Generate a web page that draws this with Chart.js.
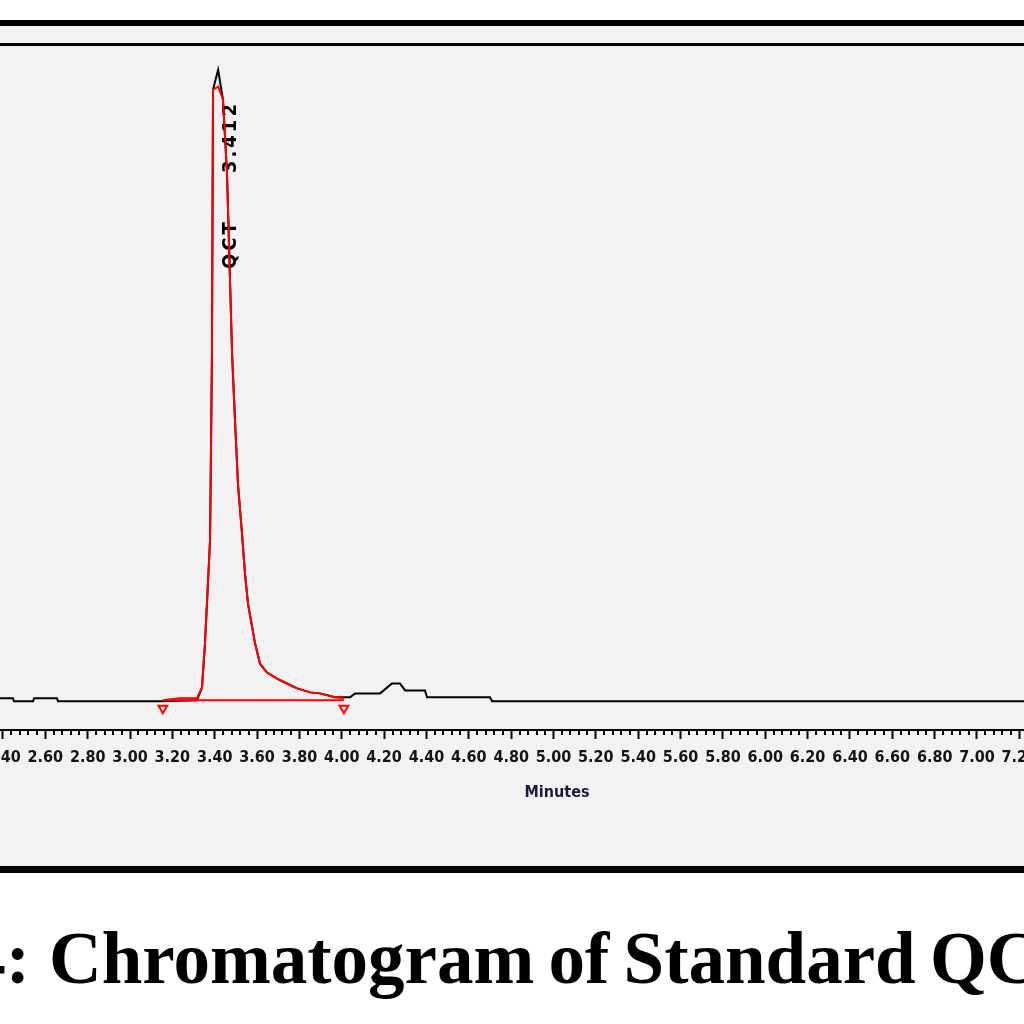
<!DOCTYPE html>
<html>
<head>
<meta charset="utf-8">
<script src="https://cdn.jsdelivr.net/npm/chart.js@4.4.1/dist/chart.umd.min.js"></script>
<style>
html,body{margin:0;padding:0;background:#fff;width:1024px;height:1024px;overflow:hidden;position:relative;}
#panel{position:absolute;left:0;top:20px;width:1024px;height:853px;box-sizing:border-box;background:#f2f2f2;border-top:6px solid #000;border-bottom:7px solid #000;}
#plotTop{position:absolute;left:0;top:43px;width:1024px;height:3px;background:#000;}
#wrap{position:absolute;left:-40px;top:46px;width:1194px;height:764px;}
.cap{position:absolute;top:922px;font:bold 73px/1 "Liberation Serif","Times New Roman",serif;color:#000;white-space:nowrap;}
</style>
</head>
<body>
<div id="panel"></div>
<div id="plotTop"></div>
<div id="wrap"><canvas id="chrom" width="1194" height="764"></canvas></div>
<div class="cap" style="right:994px;">Figure 4:</div>
<div class="cap" style="left:49px;word-spacing:-4px;">Chromatogram of Standard QCT</div>

<script>
// ---- data (minutes / mV) ----
const xRange = [2.386, 7.647];
const majorStep = 0.2;
const minorStep = 0.04;
const yRange = [-15, 327];

// detector trace (black)
const timeMin = [2.386, 2.447, 2.452, 2.542, 2.547, 2.655, 2.660, 3.142, 3.316, 3.340, 3.354, 3.378, 3.387, 3.392, 3.416,
  3.439, 3.458, 3.482, 3.496, 3.510, 3.529, 3.543, 3.557, 3.576, 3.590, 3.614, 3.647, 3.694, 3.741, 3.789, 3.850, 3.897,
  3.968, 4.039, 4.063, 4.181, 4.237, 4.275, 4.299, 4.393, 4.403, 4.700, 4.710, 7.647];
const signalMv = [1, 1, -0.5, -0.5, 1, 1, -0.5, -0.5, 0, 6.5, 28.5, 81, 175, 308.5, 318.5,
  303.5, 266.5, 175, 141, 109, 84, 64, 49, 37.5, 29, 18.5, 14, 11, 8.5, 6, 4, 3.5,
  1.5, 1.5, 3.5, 3.5, 8.5, 8.5, 5, 5, 1.5, 1.5, -0.5, -0.5];

// integrated peak (red)
const peakTime = [3.155, 3.236, 3.316, 3.340, 3.354, 3.378, 3.387, 3.392, 3.416, 3.439, 3.458, 3.482, 3.496, 3.510,
  3.529, 3.543, 3.557, 3.576, 3.590, 3.614, 3.647, 3.694, 3.741, 3.789, 3.850, 3.897, 3.968, 4.010];
const peakMv = [0, 1, 1, 6.5, 28.5, 81, 175, 308.5, 310, 303.5, 266.5, 175, 141, 109,
  84, 64, 49, 37.5, 29, 18.5, 14, 11, 8.5, 6, 4, 3.5, 1.5, 1];

// baseline drop + start/end marks
const baseTime = [3.155, 4.010];
const baseMv = [0, 0];
const markMv = [-4, -4];

const peakRt = 3.416;
const peakLabels = ["3.412", "QCT"];

const pts = (xs, ys) => xs.map((x, i) => ({x, y: ys[i]}));
const FONT = "'DejaVu Sans Condensed', 'DejaVu Sans', sans-serif";

// small ticks between the labelled ones
const minorTicks = {
  id: "minorTicks",
  afterDraw(chart){
    const sx = chart.scales.x, ctx = chart.ctx;
    ctx.save(); ctx.strokeStyle = "#000"; ctx.lineWidth = 2;
    for(let i = Math.ceil(sx.min / minorStep); i * minorStep <= sx.max; i++){
      if(i % 5 === 0) continue;
      const px = Math.round(sx.getPixelForValue(i * minorStep));
      ctx.beginPath(); ctx.moveTo(px, sx.top); ctx.lineTo(px, sx.top + 5); ctx.stroke();
    }
    ctx.restore();
  }
};

// rotated peak annotation (drawn under the traces)
const peakText = {
  id: "peakText",
  beforeDatasetsDraw(chart){
    const {x} = chart.scales, ctx = chart.ctx, top = chart.chartArea.top;
    const px = x.getPixelForValue(peakRt) + 18;
    const starts = [top + 120, top + 216];
    ctx.save();
    ctx.fillStyle = "#000";
    ctx.font = "bold 20px " + FONT;
    ctx.letterSpacing = "3px";
    peakLabels.forEach((t, i) => {
      ctx.save();
      ctx.translate(px, starts[i]);
      ctx.rotate(-Math.PI / 2);
      ctx.fillText(t, 0, 0);
      ctx.restore();
    });
    ctx.restore();
  }
};

new Chart(document.getElementById("chrom"), {
  type: "line",
  data: {
    datasets: [
      {data: pts(peakTime, peakMv), borderColor: "#ff0000", borderWidth: 2, pointRadius: 0, tension: 0},
      {data: pts(baseTime, baseMv), borderColor: "#ff0000", borderWidth: 2, pointRadius: 0, tension: 0},
      {data: pts(baseTime, markMv), showLine: false, pointStyle: "triangle", pointRotation: 180, pointRadius: 5,
        pointBorderColor: "#ff0000", pointBackgroundColor: "rgba(0,0,0,0)", pointBorderWidth: 2},
      {data: pts(timeMin, signalMv), borderColor: "#000", borderWidth: 2, pointRadius: 0, tension: 0}
    ]
  },
  options: {
    responsive: false,
    animation: false,
    layout: {padding: {left: 40, right: 40, top: 0, bottom: 0}},
    plugins: {legend: {display: false}, tooltip: {enabled: false}},
    scales: {
      x: {
        type: "linear", position: "bottom", min: xRange[0], max: xRange[1],
        border: {display: true, color: "#000", width: 2},
        grid: {drawOnChartArea: false, drawTicks: true, tickLength: 9, tickColor: "#000", tickWidth: 2},
        ticks: {stepSize: majorStep, maxTicksLimit: 100, includeBounds: false, autoSkip: false, maxRotation: 0,
          padding: 9, color: "#141414", font: {family: FONT, size: 16, weight: "bold"},
          callback: v => Number(v).toFixed(2)},
        title: {display: true, text: "Minutes", color: "#1a1a3c", font: {family: FONT, size: 16, weight: "bold"},
          padding: {top: 0, bottom: 8}},
        afterFit: s => { s.height = 80; }
      },
      y: {display: false, min: yRange[0], max: yRange[1]}
    }
  },
  plugins: [minorTicks, peakText]
});
</script>
</body>
</html>
